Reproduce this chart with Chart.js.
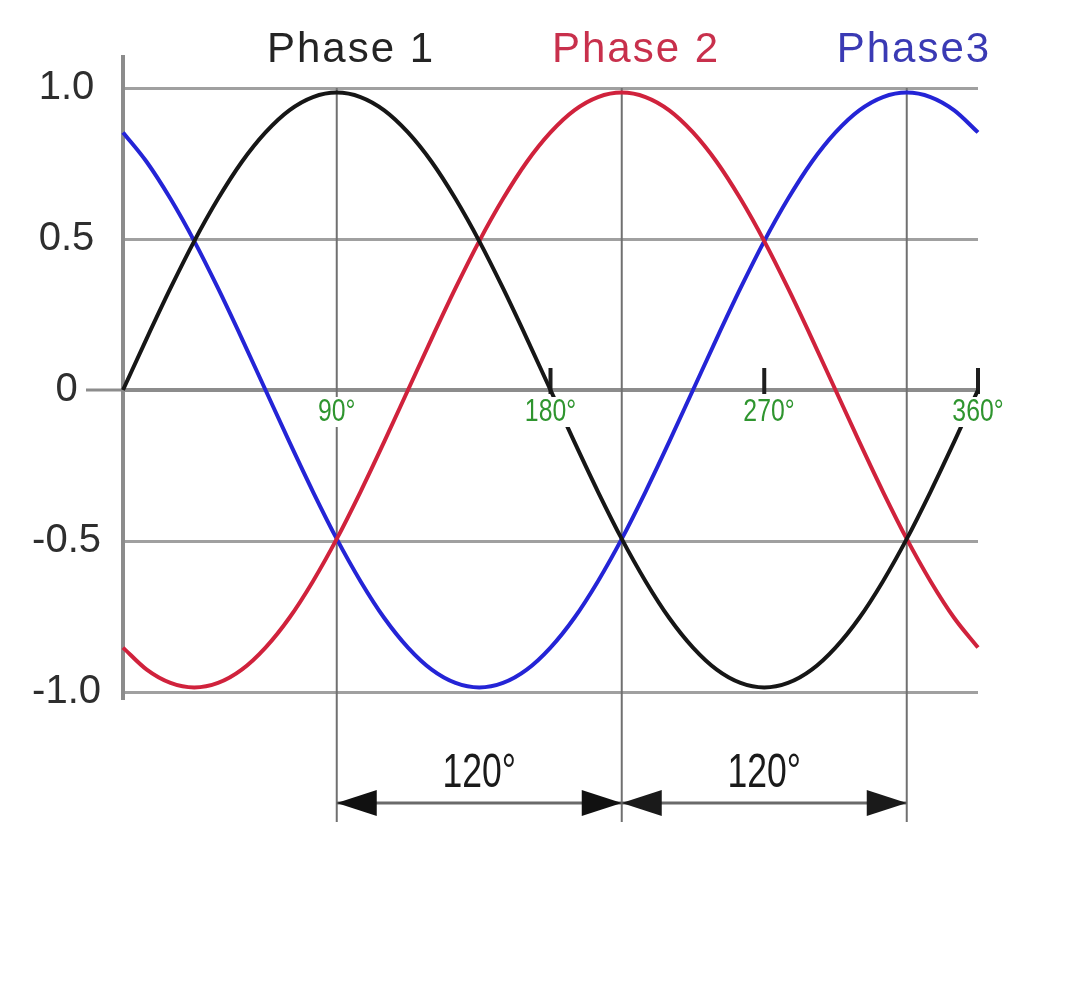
<!DOCTYPE html>
<html>
<head>
<meta charset="utf-8">
<title>Three phase waveforms</title>
<script src="https://cdn.jsdelivr.net/npm/chart.js@4/dist/chart.umd.min.js"></script>
<style>
  html, body { margin: 0; padding: 0; background: #fff; }
  #wrap { width: 1076px; height: 1006px; position: relative; }
</style>
</head>
<body>
<div id="wrap"><canvas id="phases"></canvas></div>
<script>
// values, every 10 degrees (peaks sit just under the 1.0 line)
const degrees = [0, 10, 20, 30, 40, 50, 60, 70, 80, 90, 100, 110, 120, 130, 140, 150, 160, 170, 180,
    190, 200, 210, 220, 230, 240, 250, 260, 270, 280, 290, 300, 310, 320, 330, 340, 350, 360];
const phase1 = [0, 0.171, 0.337, 0.493, 0.633, 0.755, 0.853, 0.926, 0.970, 0.985, 0.970, 0.926, 0.853, 0.755, 0.633, 0.493,
    0.337, 0.171, 0, -0.171, -0.337, -0.493, -0.633, -0.755, -0.853, -0.926, -0.970, -0.985, -0.970, -0.926, -0.853,
    -0.755, -0.633, -0.493, -0.337, -0.171, 0];
const phase2 = [-0.853, -0.926, -0.970, -0.985, -0.970, -0.926, -0.853, -0.755, -0.633, -0.493, -0.337, -0.171, 0,
    0.171, 0.337, 0.493, 0.633, 0.755, 0.853, 0.926, 0.970, 0.985, 0.970, 0.926, 0.853, 0.755, 0.633, 0.493, 0.337,
    0.171, 0, -0.171, -0.337, -0.493, -0.633, -0.755, -0.853];
const phase3 = [0.853, 0.755, 0.633, 0.493, 0.337, 0.171, 0, -0.171, -0.337, -0.493, -0.633, -0.755, -0.853, -0.926,
    -0.970, -0.985, -0.970, -0.926, -0.853, -0.755, -0.633, -0.493, -0.337, -0.171, 0, 0.171, 0.337, 0.493, 0.633,
    0.755, 0.853, 0.926, 0.970, 0.985, 0.970, 0.926, 0.853];

const phaseNames = ['Phase 1', 'Phase 2', 'Phase3'];
const phaseColors = ['#161616', '#d0223c', '#2424d6'];
const nameColors = ['#242424', '#c8304c', '#3a3ab4'];
const namePos = [96, 216, 333];

const markerDegrees = [90, 210, 330];
const tickDegrees = [180, 270, 360];
const degreeLabels = ['90°', '180°', '270°', '360°'];
const degreeLabelPos = [90, 180, 272, 360];
const spans = [[90, 210], [210, 330]];
const spanLabels = ['120°', '120°'];

function points(values) {
    return degrees.map((d, i) => ({ x: d, y: values[i] }));
}

// text squeezed sideways, the picture uses a narrow face
function narrowText(ctx, text, x, y, sx) {
    ctx.save();
    ctx.translate(x, y);
    ctx.scale(sx, 1);
    ctx.fillText(text, 0, 0);
    ctx.restore();
}

const decorations = {
    id: 'decorations',
    beforeDatasetsDraw(chart) {
        const ctx = chart.ctx, xs = chart.scales.x, ys = chart.scales.y, area = chart.chartArea;
        const x0 = xs.getPixelForValue(0), y0 = ys.getPixelForValue(0);
        ctx.save();
        // vertical marker lines at the peaks, run down to the 120 deg arrows
        ctx.strokeStyle = '#707070';
        ctx.lineWidth = 2;
        markerDegrees.forEach(d => {
            const px = xs.getPixelForValue(d);
            ctx.beginPath(); ctx.moveTo(px, area.top); ctx.lineTo(px, area.bottom + 130); ctx.stroke();
        });
        // axis line
        ctx.strokeStyle = '#8c8c8c';
        ctx.lineWidth = 4;
        ctx.beginPath(); ctx.moveTo(x0, area.top - 33); ctx.lineTo(x0, area.bottom + 8); ctx.stroke();
        // zero line sticks out on the left
        ctx.lineWidth = 3;
        ctx.beginPath(); ctx.moveTo(x0 - 37, y0); ctx.lineTo(x0, y0); ctx.stroke();
        // small ticks on the zero line
        ctx.strokeStyle = '#1e1e1e';
        ctx.lineWidth = 4;
        tickDegrees.forEach(d => {
            const px = xs.getPixelForValue(d);
            ctx.beginPath(); ctx.moveTo(px, y0 - 22); ctx.lineTo(px, y0 + 4); ctx.stroke();
        });
        ctx.restore();
    },
    afterDatasetsDraw(chart) {
        const ctx = chart.ctx, xs = chart.scales.x, ys = chart.scales.y, area = chart.chartArea;
        const y0 = ys.getPixelForValue(0);
        ctx.save();

        // green degree labels on white boxes
        ctx.font = '31px "Liberation Sans", Arial, sans-serif';
        ctx.textAlign = 'center';
        ctx.textBaseline = 'middle';
        degreeLabels.forEach((t, i) => {
            const px = xs.getPixelForValue(degreeLabelPos[i]);
            const w = ctx.measureText(t).width * 0.8;
            ctx.fillStyle = '#fff';
            ctx.fillRect(px - w / 2 - 3, y0 + 7, w + 6, 30);
            ctx.fillStyle = '#2f952f';
            narrowText(ctx, t, px, y0 + 22, 0.8);
        });

        // phase names on top
        ctx.font = '42px "Liberation Sans", Arial, sans-serif';
        ctx.letterSpacing = '2px';
        ctx.textBaseline = 'alphabetic';
        phaseNames.forEach((t, i) => {
            ctx.fillStyle = nameColors[i];
            ctx.fillText(t, xs.getPixelForValue(namePos[i]), area.top - 26);
        });
        ctx.letterSpacing = '0px';

        // 120 deg dimension arrows
        const ay = area.bottom + 111;
        ctx.strokeStyle = '#6a6a6a';
        ctx.lineWidth = 3;
        ctx.beginPath();
        ctx.moveTo(xs.getPixelForValue(spans[0][0]), ay);
        ctx.lineTo(xs.getPixelForValue(spans[spans.length - 1][1]), ay);
        ctx.stroke();
        ctx.fillStyle = '#111';
        function head(tip, dir) {
            ctx.beginPath();
            ctx.moveTo(tip, ay);
            ctx.lineTo(tip + dir * 40, ay - 13);
            ctx.lineTo(tip + dir * 40, ay + 13);
            ctx.closePath();
            ctx.fill();
        }
        ctx.font = '48px "Liberation Sans", Arial, sans-serif';
        ctx.textAlign = 'center';
        spans.forEach((s, i) => {
            const a = xs.getPixelForValue(s[0]), b = xs.getPixelForValue(s[1]);
            head(a, 1);
            head(b, -1);
            ctx.fillStyle = '#1a1a1a';
            narrowText(ctx, spanLabels[i], (a + b) / 2, area.bottom + 95, 0.74);
        });
        ctx.restore();
    }
};

new Chart(document.getElementById('phases'), {
    type: 'line',
    data: {
        datasets: [0, 1, 2].map(i => ({
            label: phaseNames[i],
            data: points([phase1, phase2, phase3][i]),
            borderColor: phaseColors[i],
            borderWidth: 4,
            pointRadius: 0,
            cubicInterpolationMode: 'monotone',
            fill: false,
            clip: false
        }))
    },
    options: {
        responsive: true,
        maintainAspectRatio: false,
        animation: false,
        layout: { padding: { left: 0, top: 88, right: 98, bottom: 314 } },
        plugins: {
            legend: { display: false },
            tooltip: { enabled: false }
        },
        scales: {
            x: {
                type: 'linear',
                min: 0,
                max: 360,
                display: false
            },
            y: {
                min: -1,
                max: 1,
                afterFit: s => { s.width = 123; },
                afterBuildTicks: s => { s.ticks = [-1, -0.5, 0, 0.5, 1].map(v => ({ value: v })); },
                border: { display: false },
                grid: {
                    drawTicks: false,
                    color: c => c.tick && c.tick.value === 0 ? '#8c8c8c' : '#a0a0a0',
                    lineWidth: c => c.tick && c.tick.value === 0 ? 4 : 3
                },
                ticks: {
                    crossAlign: 'center',
                    padding: 22,
                    color: '#2e2e2e',
                    font: { family: '"Liberation Sans", Arial, sans-serif', size: 40 },
                    callback: v => v === 0 ? '0' : v.toFixed(1)
                }
            }
        }
    },
    plugins: [decorations]
});
</script>
</body>
</html>
